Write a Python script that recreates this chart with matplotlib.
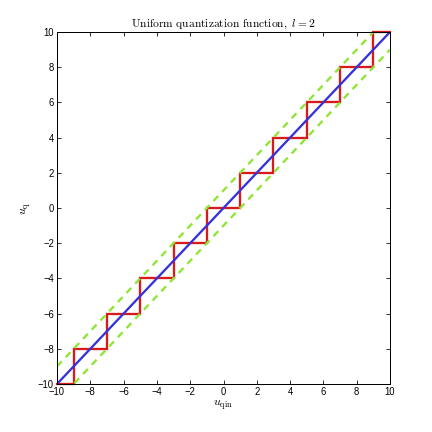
import matplotlib
matplotlib.use("Agg")
import matplotlib.pyplot as plt
import numpy as np

# data
edges = [-10, -9, -7, -5, -3, -1, 1, 3, 5, 7, 9, 10]
levels = [-10, -8, -6, -4, -2, 0, 2, 4, 6, 8, 10]
line_x = [-10, 10]
line_y = [-10, 10]
band_offset = 1
ticks = [-10, -8, -6, -4, -2, 0, 2, 4, 6, 8, 10]

plt.rcParams['mathtext.fontset'] = 'cm'
plt.rcParams['font.family'] = ['Liberation Sans', 'DejaVu Sans']

fig = plt.figure(figsize=(6, 6), dpi=72)
ax = fig.add_axes([57/432, 1-384/432, (390-57)/432, (384-32)/432])

# staircase
xs = [edges[0]]
ys = [levels[0]]
for i, lv in enumerate(levels):
    xs += [edges[i], edges[i+1]]
    ys += [lv, lv]
ax.plot(xs, ys, color=(0.85, 0.1, 0.1), lw=2.3, solid_joinstyle='miter', clip_on=False)
ax.plot(line_x, line_y, color=(0.2, 0.2, 0.85), lw=2.3)
lx = np.array(line_x)
ly = np.array(line_y)
green = (0.55, 0.9, 0.2)
ax.plot(lx, ly + band_offset, color=green, lw=2.3, ls=(0, (3, 2.5)))
ax.plot(lx, ly - band_offset, color=green, lw=2.3, ls=(0, (3, 2.5)))

ax.set_xlim(-10, 10)
ax.set_ylim(-10, 10)
ax.set_xticks(ticks)
ax.set_yticks(ticks)
ax.tick_params(direction='in', top=True, right=True, labelsize=9.5, length=4, pad=3)
for s in ax.spines.values():
    s.set_linewidth(1.0)

ax.set_title(r"$\mathrm{Uniform\ quantization\ function,}\ l = 2$", fontsize=11.5, pad=5)
ax.set_xlabel(r"$u_{\mathrm{qin}}$", fontsize=12, labelpad=1)
ax.set_ylabel(r"$u_{\mathrm{q}}$", fontsize=12, labelpad=6)

fig.savefig("out.png", dpi=72)
